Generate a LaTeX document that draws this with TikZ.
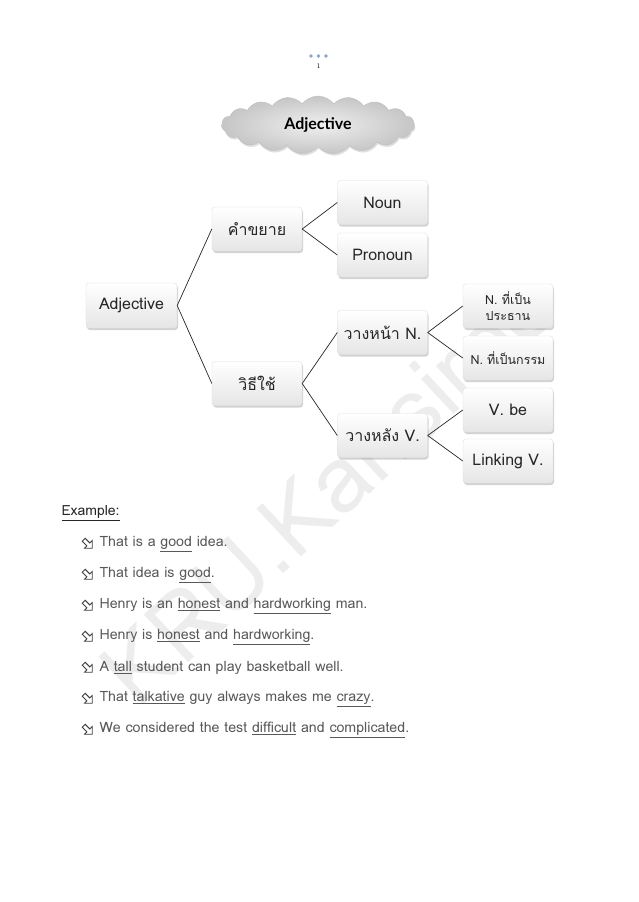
\documentclass[tikz,border=0pt]{standalone}
\usepackage{fontspec}
\newfontfamily\thaifont[Script=Thai]{Loma}
\newfontfamily\cloudfont{Lato}
\usetikzlibrary{shapes.symbols,shadows}

\definecolor{dotblue}{HTML}{8AA4C8}
\tikzset{
  box/.style={rectangle, rounded corners=3pt, minimum width=90pt, minimum height=44pt,
    inner sep=2pt, top color=white, bottom color=gray!20, draw=gray!25,
    drop shadow={opacity=0.35, shadow xshift=1pt, shadow yshift=-2pt},
    font=\thaifont\fontsize{16}{19}\selectfont, text=black!85, align=center},
  smallbox/.style={box, font=\thaifont\fontsize{12.5}{16}\selectfont},
  branch/.style={black!85, line width=0.7pt},
  exline/.style={anchor=west, text=black!65, font=\thaifont\fontsize{14.2}{16}\selectfont},
  exmark/.pic={
    \draw[black!75, line width=0.9pt, x=12pt, y=12pt, rotate=-45, line join=miter]
      (-0.5,-0.17) -- (0.05,-0.17) -- (0.05,-0.45) -- (0.5,0) -- (0.05,0.45)
      -- (0.05,0.17) -- (-0.5,0.17) -- cycle;
  },
}

\begin{document}
\begin{tikzpicture}[x=1pt,y=-1pt]
  \useasboundingbox (0,0) rectangle (638,902);
  \fill[white] (0,0) rectangle (638,902);
  % watermark
  \node[rotate=43, text=gray!14, font=\thaifont\fontsize{92}{92}\selectfont] (mark) at (328,488) {KRU.Kansiree};
  % page mark
  \foreach \x in {311,318.5,326} \fill[dotblue] (\x,56) circle (1.8pt);
  \node[font=\fontsize{7}{8}\selectfont] (pg) at (318.5,66) {1};
  % title cloud
  \node[cloud, cloud puffs=19, cloud puff arc=105, cloud ignores aspect,
    minimum width=193pt, minimum height=58pt,
    inner color=gray!12, outer color=gray!45, draw=gray!50,
    drop shadow={opacity=0.25, shadow xshift=1pt, shadow yshift=-2pt},
    font=\cloudfont\bfseries\fontsize{16}{18}\selectfont] (title) at (318,125) {Adjective};
  % tree
  \node[box, minimum width=91pt, minimum height=45pt] (adj) at (131.5,305.5) {Adjective};
  \node[box] (mod) at (257,229) {คำขยาย};
  \node[box] (use) at (257,383.5) {วิธีใช้};
  \node[box] (noun) at (382.5,202.5) {Noun};
  \node[box] (pron) at (382.5,255) {Pronoun};
  \node[box] (befn) at (382.5,332.5) {วางหน้า N.};
  \node[box] (aftv) at (382.5,435.5) {วางหลัง V.};
  \node[smallbox] (subj) at (508,306) {N. ที่เป็น\\ประธาน};
  \node[smallbox] (obj) at (508,358) {N. ที่เป็นกรรม};
  \node[box] (vbe) at (508,410) {V. be};
  \node[box] (link) at (508,461) {Linking V.};
  \foreach \a/\b in {adj/mod,adj/use,mod/noun,mod/pron,use/befn,use/aftv,
      befn/subj,befn/obj,aftv/vbe,aftv/link}
    \draw[branch] (\a.east) -- (\b.west);
  % examples
  \node[exline, text=black!85, font=\thaifont\fontsize{14}{16}\selectfont] (exhead) at (58,513) {\underline{Example:}};
  \foreach \t [count=\i] in {
      {That is a \underline{good} idea.},
      {That idea is \underline{good}.},
      {Henry is an \underline{honest} and \underline{hardworking} man.},
      {Henry is \underline{honest} and \underline{hardworking}.},
      {A \underline{tall} student can play basketball well.},
      {That \underline{talkative} guy always makes me \underline{crazy}.},
      {We considered the test \underline{difficult} and \underline{complicated}.}}
  {
    \pic at (88,513+31*\i) {exmark};
    \node[exline] (ex\i) at (96,513+31*\i) {\t};
  }
\end{tikzpicture}
\end{document}
